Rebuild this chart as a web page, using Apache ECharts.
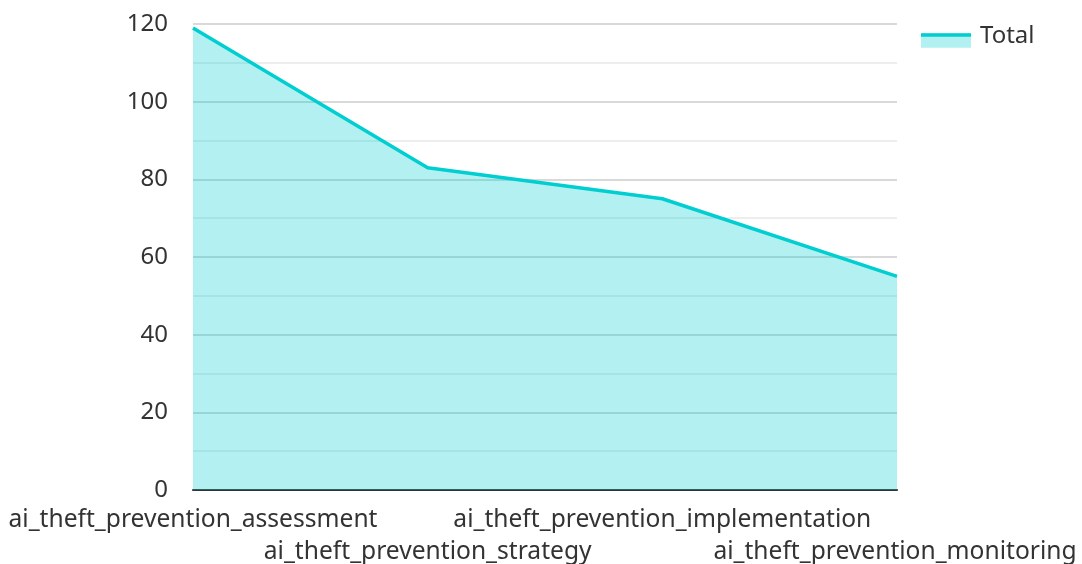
<!DOCTYPE html>
<html><head><meta charset="utf-8">
<script src="https://cdn.jsdelivr.net/npm/echarts@6/dist/echarts.min.js"></script>
<style>html,body{margin:0;padding:0;background:#fff}#c{width:1082px;height:564px}</style>
</head><body><div id="c"></div>
<script>
const categories = ["ai_theft_prevention_assessment","ai_theft_prevention_strategy","ai_theft_prevention_implementation","ai_theft_prevention_monitoring"];
const totalValues = [119, 83, 75, 55];
const yTicks = [0, 20, 40, 60, 80, 100, 120];

const chart = echarts.init(document.getElementById('c'));
chart.setOption({
  animation: false,
  textStyle: {fontFamily: 'Noto Sans'},
  legend: {
    left: 921, top: 24, padding: 0, itemWidth: 50, itemHeight: 15, itemGap: 10,
    icon: 'rect',
    itemStyle: {color: '#b2f0f1', borderWidth: 0, opacity: 0},
    textStyle: {fontSize: 24, color: '#333', fontFamily: 'Noto Sans', padding: [0,0,0,4]},
    data: ['Total']
  },
  graphic: [
    {type: 'rect', left: 921, top: 33.3, shape: {width: 50, height: 14.4}, style: {fill: '#b2f0f1'}, z: 99},
    {type: 'rect', left: 921, top: 33.3, shape: {width: 50, height: 3.4}, style: {fill: '#00CED1'}, z: 100}
  ],
  grid: {left: 193, right: 185, top: 24, bottom: 74, outerBoundsMode: 'none', containLabel: false},
  xAxis: {
    type: 'category', boundaryGap: false, data: categories,
    axisLine: {lineStyle: {color: '#333', width: 2}},
    axisTick: {show: false},
    axisLabel: {
      interval: 0, fontSize: 24.6, color: '#333', margin: 14, lineHeight: 32,
      formatter: (v, i) => {
        if (i === categories.length - 1) return '\n{last|' + v + '}';
        return i % 2 === 1 ? '\n' + v : v;
      },
      rich: {last: {fontSize: 24.6, color: '#333', padding: [0, 4, 0, 0], lineHeight: 32}}
    }
  },
  yAxis: {
    type: 'value', min: yTicks[0], max: yTicks[yTicks.length-1], interval: 20,
    axisLine: {show: false}, axisTick: {show: false},
    axisLabel: {fontSize: 24, color: '#333', margin: 25},
    splitLine: {lineStyle: {color: '#ccc', width: 1.5}},
    minorTick: {show: false, splitNumber: 2},
    minorSplitLine: {show: true, lineStyle: {color: '#e8e8e8', width: 1.5}}
  },
  series: [{
    name: 'Total', type: 'line', data: totalValues,
    symbol: 'none', lineStyle: {color: '#00CED1', width: 3.5},
    itemStyle: {color: '#00CED1'},
    areaStyle: {color: '#00CED1', opacity: 0.3}
  }]
});
</script></body></html>
